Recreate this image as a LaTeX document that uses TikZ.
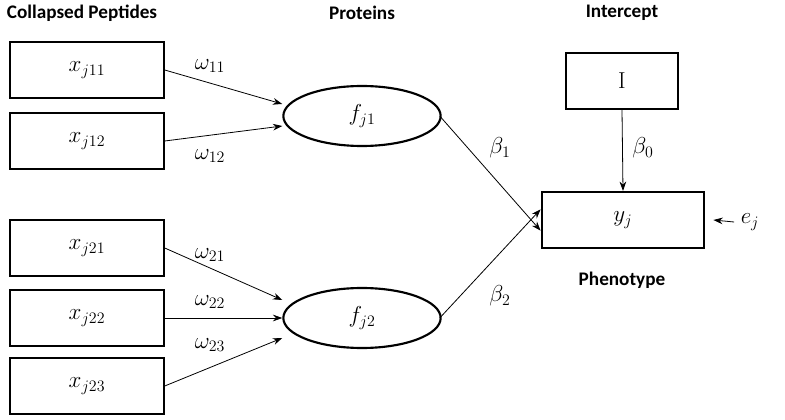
\documentclass[tikz,border=0pt]{standalone}
\usepackage{fontspec}
\newfontfamily\hd{Carlito}
\usetikzlibrary{shapes.geometric,arrows.meta}
\begin{document}
\begin{tikzpicture}[x=0.75pt,y=-0.75pt,
 box/.style={draw,line width=1.6pt,minimum width=115pt,minimum height=42pt,inner sep=0pt,font=\LARGE},
 ell/.style={draw,ellipse,line width=1.6pt,minimum width=118pt,minimum height=45pt,inner sep=0pt,font=\LARGE},
 arr/.style={-{Stealth[length=7pt,width=5pt]},line width=0.6pt},
 hd/.style={font=\hd\bfseries\Large},
 lab/.style={font=\LARGE}]
\useasboundingbox (0,0) rectangle (785,420);
\node[hd] (h1) at (82,13) {Collapsed Peptides};
\node[hd] (h2) at (362,13) {Proteins};
\node[hd] (h3) at (622,13) {Intercept};
\node[hd] (h4) at (622,280) {Phenotype};
\node[box] (x11) at (87,70) {$x_{j11}$};
\node[box] (x12) at (87,141) {$x_{j12}$};
\node[box] (x21) at (87,248) {$x_{j21}$};
\node[box] (x22) at (87,318) {$x_{j22}$};
\node[box] (x23) at (87,386) {$x_{j23}$};
\node[ell] (f1) at (362,116) {$f_{j1}$};
\node[ell] (f2) at (362,318) {$f_{j2}$};
\node[box,minimum width=84pt] (I) at (622,81) {I};
\node[box,minimum width=122pt] (y) at (623,220) {$y_j$};
\node[font=\LARGE] (e) at (750,222) {$e_j$};
\draw[arr] (x11.east) -- (f1.west |- 0,104);
\draw[arr] (x12.east) -- (f1.west |- 0,126);
\draw[arr] (x21.east) -- (f2.west |- 0,300);
\draw[arr] (x22.east) -- (f2.west);
\draw[arr] (x23.east) -- (f2.west |- 0,338);
\node[lab] at (210,66) {$\omega_{11}$};
\node[lab] at (210,156) {$\omega_{12}$};
\node[lab] at (210,255) {$\omega_{21}$};
\node[lab] at (210,302) {$\omega_{22}$};
\node[lab] at (210,345) {$\omega_{23}$};
\draw[arr] (f1.east) ++(-2,0) -- ([yshift=-8pt]y.west);
\draw[arr] (f2.east) ++(-2,0) -- ([yshift=8pt]y.west);
\node[lab] at (500,148) {$\beta_1$};
\node[lab] at (500,296) {$\beta_2$};
\draw[arr] (I.south) -- (y.north);
\node[lab] at (643,148) {$\beta_0$};
\draw[arr] (e.west) ++(-2,0) -- ([xshift=6pt]y.east);
\end{tikzpicture}
\end{document}
